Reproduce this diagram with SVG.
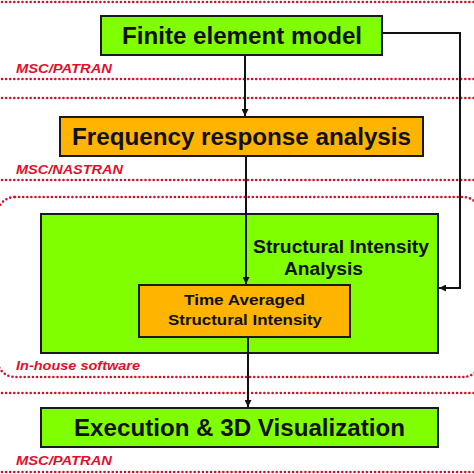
<svg xmlns="http://www.w3.org/2000/svg" width="474" height="474" viewBox="0 0 474 474">
<style>
.bg{fill:#ffffff}
.dot{fill:none;stroke:#d40f2c;stroke-width:2.6;stroke-linecap:round;stroke-dasharray:0 4.1}
.lbl{font-family:"Liberation Sans",Arial,sans-serif;font-weight:bold;font-style:italic;font-size:13px;fill:#e0102c}
.green{fill:#80ff00;stroke:#1a1a1a;stroke-width:2}
.orange{fill:#ffb400;stroke:#1a1a1a;stroke-width:2}
.big{font-family:"Liberation Sans",Arial,sans-serif;font-weight:bold;font-size:23px;fill:#111}
.mid{font-family:"Liberation Sans",Arial,sans-serif;font-weight:bold;font-size:18px;fill:#111}
.sm{font-family:"Liberation Sans",Arial,sans-serif;font-weight:bold;font-size:15.5px;fill:#111}
.conn{fill:none;stroke:#111;stroke-width:2}
</style>
<defs>
<marker id="arr" viewBox="0 0 10 10" refX="10" refY="5" markerWidth="7" markerHeight="7" orient="auto" markerUnits="userSpaceOnUse">
<path d="M0,0 L10,5 L0,10 z" fill="#111"/>
</marker>
</defs>
<rect class="bg" x="0" y="0" width="474" height="474"/>
<g id="separators">
<line class="dot" x1="2" y1="2" x2="474" y2="2"/>
<line class="dot" x1="2" y1="79" x2="474" y2="79"/>
<line class="dot" x1="2" y1="98" x2="474" y2="98"/>
<line class="dot" x1="2" y1="180" x2="474" y2="180"/>
<rect class="dot" x="-3" y="197" width="484" height="180" rx="18" ry="18"/>
<line class="dot" x1="2" y1="393" x2="474" y2="393"/>
<line class="dot" x1="2" y1="472" x2="474" y2="472"/>
</g>
<g id="labels">
<text class="lbl" x="16" y="73" textLength="96" lengthAdjust="spacingAndGlyphs">MSC/PATRAN</text>
<text class="lbl" x="16" y="174" textLength="107" lengthAdjust="spacingAndGlyphs">MSC/NASTRAN</text>
<text class="lbl" x="16" y="370" textLength="124" lengthAdjust="spacingAndGlyphs">In-house software</text>
<text class="lbl" x="16" y="465" textLength="96" lengthAdjust="spacingAndGlyphs">MSC/PATRAN</text>
</g>
<g id="node-fem">
<rect class="green" x="101" y="16" width="281" height="39"/>
<text class="big" x="122" y="44" textLength="240" lengthAdjust="spacingAndGlyphs">Finite element model</text>
</g>
<g id="node-fra">
<rect class="orange" x="60" y="117" width="363" height="39"/>
<text class="big" x="72" y="145" textLength="339" lengthAdjust="spacingAndGlyphs">Frequency response analysis</text>
</g>
<g id="node-sia">
<rect class="green" x="41" y="214" width="397" height="139"/>
<text class="mid" x="253" y="253" textLength="176" lengthAdjust="spacingAndGlyphs">Structural Intensity</text>
<text class="mid" x="284" y="275" textLength="79" lengthAdjust="spacingAndGlyphs">Analysis</text>
</g>
<g id="node-tasi">
<rect class="orange" x="139" y="285" width="211" height="52"/>
<text class="sm" x="184" y="305" textLength="121" lengthAdjust="spacingAndGlyphs">Time Averaged</text>
<text class="sm" x="168" y="325" textLength="154" lengthAdjust="spacingAndGlyphs">Structural Intensity</text>
</g>
<g id="node-exec">
<rect class="green" x="41" y="408" width="397" height="39"/>
<text class="big" x="74" y="436" textLength="331" lengthAdjust="spacingAndGlyphs">Execution &amp; 3D Visualization</text>
</g>
<g id="connectors">
<line class="conn" x1="245" y1="55" x2="245" y2="116" marker-end="url(#arr)"/>
<line class="conn" x1="246" y1="156" x2="246" y2="284" marker-end="url(#arr)"/>
<line class="conn" x1="248" y1="337" x2="248" y2="407" marker-end="url(#arr)"/>
<polyline class="conn" points="382,33 460,33 460,288 439,288" marker-end="url(#arr)"/>
</g>
</svg>
